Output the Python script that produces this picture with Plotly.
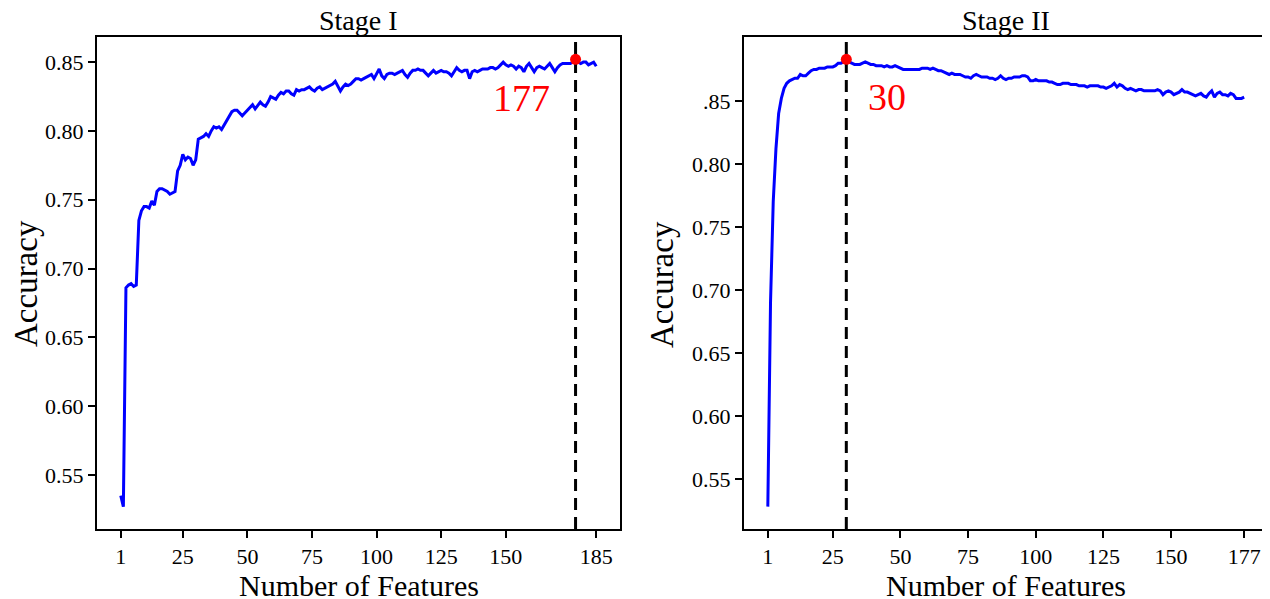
import numpy as np
import plotly.graph_objects as go


#%% Data

stage1_acc = [
    0.535, 0.527, 0.686, 0.688, 0.689, 0.687, 0.688, 0.735, 0.742, 0.745,
    0.745, 0.744, 0.749, 0.746, 0.756, 0.758, 0.758, 0.757, 0.756, 0.754,
    0.755, 0.756, 0.771, 0.775, 0.783, 0.779, 0.781, 0.780, 0.775, 0.779,
    0.794, 0.795, 0.796, 0.798, 0.796, 0.800, 0.803, 0.802, 0.803, 0.801,
    0.804, 0.808, 0.811, 0.814, 0.815, 0.815, 0.813, 0.811, 0.813, 0.815,
    0.817, 0.819, 0.816, 0.819, 0.821, 0.819, 0.818, 0.821, 0.825, 0.824,
    0.823, 0.826, 0.828, 0.827, 0.829, 0.829, 0.827, 0.826, 0.830, 0.829,
    0.830, 0.830, 0.831, 0.832, 0.830, 0.829, 0.831, 0.832, 0.830, 0.831,
    0.832, 0.833, 0.834, 0.836, 0.832, 0.829, 0.832, 0.834, 0.833, 0.834,
    0.836, 0.838, 0.838, 0.837, 0.838, 0.839, 0.840, 0.841, 0.838, 0.841,
    0.845, 0.840, 0.838, 0.841, 0.842, 0.842, 0.841, 0.842, 0.843, 0.844,
    0.841, 0.839, 0.842, 0.844, 0.844, 0.845, 0.844, 0.844, 0.842, 0.840,
    0.842, 0.844, 0.842, 0.843, 0.844, 0.843, 0.843, 0.842, 0.840, 0.843,
    0.846, 0.844, 0.843, 0.844, 0.844, 0.838, 0.843, 0.844, 0.843, 0.844,
    0.845, 0.845, 0.845, 0.846, 0.846, 0.845, 0.846, 0.848, 0.850, 0.848,
    0.847, 0.848, 0.847, 0.845, 0.847, 0.846, 0.843, 0.847, 0.849, 0.846,
    0.843, 0.846, 0.847, 0.846, 0.845, 0.847, 0.849, 0.846, 0.843, 0.846,
    0.848, 0.849, 0.849, 0.849, 0.849, 0.850, 0.852, 0.850, 0.849, 0.850,
    0.850, 0.848, 0.849, 0.850, 0.847,
]

stage2_acc = [
    0.528, 0.690, 0.770, 0.812, 0.840, 0.852, 0.860, 0.864, 0.866, 0.867,
    0.868, 0.868, 0.871, 0.870, 0.870, 0.872, 0.874, 0.875, 0.875, 0.876,
    0.876, 0.876, 0.877, 0.877, 0.877, 0.878, 0.880, 0.880, 0.881, 0.883,
    0.881, 0.880, 0.879, 0.879, 0.879, 0.880, 0.881, 0.880, 0.879, 0.879,
    0.878, 0.878, 0.878, 0.877, 0.878, 0.877, 0.877, 0.878, 0.877, 0.876,
    0.875, 0.875, 0.875, 0.875, 0.875, 0.875, 0.875, 0.876, 0.876, 0.876,
    0.875, 0.876, 0.875, 0.874, 0.874, 0.873, 0.872, 0.871, 0.872, 0.871,
    0.871, 0.871, 0.870, 0.869, 0.869, 0.868, 0.870, 0.871, 0.870, 0.869,
    0.869, 0.869, 0.868, 0.868, 0.867, 0.868, 0.870, 0.868, 0.867, 0.868,
    0.868, 0.869, 0.869, 0.869, 0.870, 0.870, 0.869, 0.866, 0.866, 0.867,
    0.866, 0.866, 0.866, 0.866, 0.865, 0.865, 0.864, 0.863, 0.863, 0.864,
    0.864, 0.864, 0.863, 0.863, 0.863, 0.862, 0.862, 0.862, 0.861, 0.862,
    0.862, 0.862, 0.862, 0.861, 0.861, 0.860, 0.861, 0.862, 0.864, 0.861,
    0.863, 0.862, 0.860, 0.859, 0.860, 0.859, 0.858, 0.859, 0.859, 0.858,
    0.858, 0.858, 0.858, 0.858, 0.859, 0.858, 0.855, 0.857, 0.858, 0.857,
    0.855, 0.856, 0.857, 0.859, 0.857, 0.857, 0.856, 0.855, 0.854, 0.855,
    0.856, 0.854, 0.853, 0.856, 0.858, 0.853, 0.856, 0.857, 0.855, 0.855,
    0.854, 0.856, 0.855, 0.852, 0.852, 0.852, 0.853,
]

stage1_n = list(range(1, len(stage1_acc) + 1))
stage2_n = list(range(1, len(stage2_acc) + 1))

stage1_xticks = [1, 25, 50, 75, 100, 125, 150, 185]
stage2_xticks = [1, 25, 50, 75, 100, 125, 150, 177]
y_ticks = [0.55, 0.60, 0.65, 0.70, 0.75, 0.80, 0.85]
stage1_yticktext = ['0.55', '0.60', '0.65', '0.70', '0.75', '0.80', '0.85']
stage2_yticktext = ['0.55', '0.60', '0.65', '0.70', '0.75', '0.80', '.85']

FONT = 'Liberation Serif'
W, H = 1270, 599
OFF = 8  # page body margin, the figure sits 8px in from the window corner


def px_x(px):
    return (px - OFF) / W


def px_y(py):
    return 1 - (py - OFF) / H


def padded(vals, frac=0.05):
    lo, hi = min(vals), max(vals)
    pad = (hi - lo) * frac
    return [lo - pad, hi + pad]


#%% Figure

fig = go.Figure()

panels = [
    dict(n=stage1_n, acc=stage1_acc, xticks=stage1_xticks, yticktext=stage1_yticktext,
         title='Stage I', xa='x', ya='y', xdom=[px_x(97), px_x(620)], ylab_px=26,
         label_dx=-21, label_dy=-0.028),
    dict(n=stage2_n, acc=stage2_acc, xticks=stage2_xticks, yticktext=stage2_yticktext,
         title='Stage II', xa='x2', ya='y2', xdom=[px_x(744), px_x(1268)], ylab_px=662,
         label_dx=15, label_dy=-0.030),
]

ydom = [px_y(529), px_y(37)]

for i, p in enumerate(panels):
    best = int(np.argmax(p['acc']))
    best_n = p['n'][best]
    best_acc = p['acc'][best]

    fig.add_trace(go.Scatter(x=p['n'], y=p['acc'], mode='lines',
                             line=dict(color='#0000ff', width=3),
                             xaxis=p['xa'], yaxis=p['ya'], showlegend=False))
    fig.add_trace(go.Scatter(x=[best_n], y=[best_acc], mode='markers',
                             marker=dict(color='red', size=11),
                             xaxis=p['xa'], yaxis=p['ya'], showlegend=False))

    fig.add_shape(type='line', xref=p['xa'], yref=p['ya'] + ' domain',
                  x0=best_n, x1=best_n, y0=0, y1=1,
                  line=dict(color='black', width=3, dash='12px,7px'), layer='below')

    fig.add_annotation(x=best_n + p['label_dx'], y=best_acc + p['label_dy'],
                       xref=p['xa'], yref=p['ya'], text=str(best_n), showarrow=False,
                       xanchor='center', yanchor='middle',
                       font=dict(family=FONT, size=38, color='red'))

    xc = (p['xdom'][0] + p['xdom'][1]) / 2
    fig.add_annotation(x=xc, y=1.0, xref='paper', yref='paper',
                       xanchor='center', yanchor='top',
                       text=p['title'], showarrow=False, yshift=5,
                       font=dict(family=FONT, size=28, color='black'))
    fig.add_annotation(x=xc, y=px_y(585), xref='paper', yref='paper',
                       xanchor='center', yanchor='middle',
                       text='Number of Features', showarrow=False,
                       font=dict(family=FONT, size=30, color='black'))
    fig.add_annotation(x=px_x(p['ylab_px']), y=px_y(284),
                       xref='paper', yref='paper', xanchor='center', yanchor='middle',
                       text='Accuracy', showarrow=False, textangle=-90,
                       font=dict(family=FONT, size=33, color='black'))

    axis_common = dict(showline=True, linecolor='black', linewidth=2, mirror=True,
                       ticks='outside', ticklen=7, tickwidth=1.5, tickcolor='black',
                       showgrid=False, zeroline=False, automargin=False,
                       tickfont=dict(family=FONT, size=22, color='black'))
    xname = 'xaxis' if i == 0 else 'xaxis2'
    yname = 'yaxis' if i == 0 else 'yaxis2'
    fig.update_layout({
        xname: dict(axis_common, domain=p['xdom'], anchor=p['ya'],
                    range=padded(p['n']), tickvals=p['xticks']),
        yname: dict(axis_common, domain=ydom, anchor=p['xa'],
                    range=padded(p['acc']), tickvals=y_ticks, ticktext=p['yticktext']),
    })

fig.update_layout(width=W, height=H,
                  margin=dict(l=0, r=0, t=0, b=0),
                  paper_bgcolor='white', plot_bgcolor='white',
                  font=dict(family=FONT, color='black'))

fig.write_html('out.html')
print('done')
